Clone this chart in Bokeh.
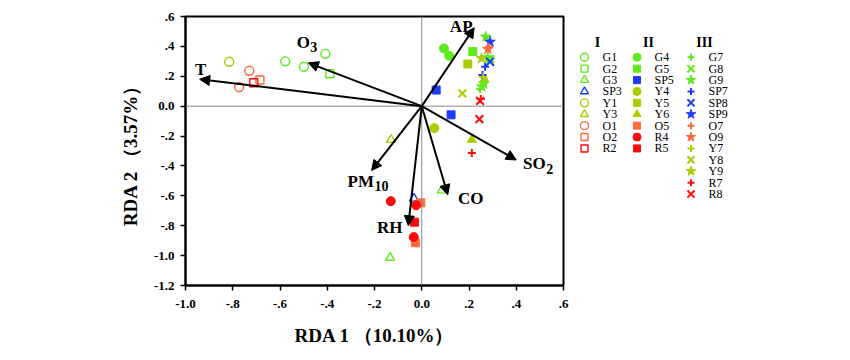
from bokeh.plotting import figure
from bokeh.layouts import row
from bokeh.models import Range1d, FixedTicker, Span, Arrow, NormalHead, ColumnDataSource
from bokeh.core.properties import value
from bokeh.embed import file_html
from bokeh.resources import INLINE

# ---------------- data ----------------
# sample scores (RDA1, RDA2)
pt_name = ["G1", "G1", "G1", "G2", "G3", "G3", "SP3", "Y1", "Y3", "O1", "O1", "O2", "R2",
           "G4", "G4", "G5", "SP5", "SP5", "Y4", "Y5", "Y6", "Y6", "O5", "O5",
           "R4", "R4", "R4", "R5",
           "G7", "G8", "G9", "G9", "G9", "G9", "SP7", "SP7", "SP8", "SP9", "O7", "O9",
           "Y7", "Y8", "Y9", "R7", "R7", "R8", "R8"]
pt_x = [-0.578, -0.499, -0.408, -0.389, 0.085, -0.134, -0.033, -0.815, -0.130, -0.730, -0.773, -0.685, -0.711,
        0.094, 0.116, 0.216, 0.061, 0.124, 0.053, 0.195, 0.212, 0.265, -0.004, -0.027,
        -0.131, -0.024, -0.034, -0.031,
        0.247, 0.290, 0.271, 0.280, 0.254, 0.262, 0.268, 0.257, 0.289, 0.289, 0.285, 0.280,
        0.260, 0.172, 0.253, 0.250, 0.212, 0.247, 0.244]
pt_y = [0.300, 0.264, 0.350, 0.217, -0.563, -1.014, -0.618, 0.297, -0.225, 0.237, 0.128, 0.175, 0.157,
        0.386, 0.337, 0.366, 0.108, -0.058, -0.147, 0.282, -0.225, 0.180, -0.647, -0.914,
        -0.636, -0.663, -0.876, -0.776,
        0.115, 0.315, 0.464, 0.326, 0.131, 0.150, 0.264, 0.208, 0.297, 0.430, 0.395, 0.382,
        0.195, 0.086, 0.320, 0.048, -0.314, 0.035, -0.087]

# environmental factor loadings
env_name = ["T", "O3", "AP", "SO2", "CO", "RH", "PM10"]
env_x = [-0.940, -0.480, 0.222, 0.400, 0.110, -0.057, -0.212]
env_y = [0.180, 0.290, 0.525, -0.360, -0.593, -0.800, -0.430]

# legend columns
col_I = ["G1", "G2", "G3", "SP3", "Y1", "Y3", "O1", "O2", "R2"]
col_II = ["G4", "G5", "SP5", "Y4", "Y5", "Y6", "O5", "R4", "R5"]
col_III = ["G7", "G8", "G9", "SP7", "SP8", "SP9", "O7", "O9", "Y7", "Y8", "Y9", "R7", "R8"]
col_heads = ["I", "II", "III"]

# axis ticks
ticks_x = [-1.0, -0.8, -0.6, -0.4, -0.2, 0.0, 0.2, 0.4, 0.6]
labels_x = ["-1.0", "-.8", "-.6", "-.4", "-.2", "0.0", ".2", ".4", ".6"]
ticks_y = [-1.2, -1.0, -0.8, -0.6, -0.4, -0.2, 0.0, 0.2, 0.4, 0.6]
labels_y = ["-1.2", "-1.0", "-.8", "-.6", "-.4", "-.2", "0.0", ".2", ".4", ".6"]

# ---------------- styles ----------------
SERIF = "Liberation Serif"
COLORS = {"G": "#5FEA1E", "Y": "#AECB00", "O": "#FF6A3A", "R": "#FF0A0A", "SP": "#1E3CF5"}
MARK = {"G1": "circle", "G2": "square", "G3": "triangle", "SP3": "triangle", "Y1": "circle",
        "Y3": "triangle", "O1": "circle", "O2": "square", "R2": "square",
        "G4": "circle", "G5": "square", "SP5": "square", "Y4": "circle", "Y5": "square",
        "Y6": "triangle", "O5": "square", "R4": "circle", "R5": "square",
        "G7": "cross", "G8": "x", "G9": "star", "SP7": "cross", "SP8": "x", "SP9": "star",
        "O7": "cross", "O9": "star", "Y7": "cross", "Y8": "x", "Y9": "star", "R7": "cross", "R8": "x"}
SIZE = {"circle": 9, "square": 8, "triangle": 9, "cross": 8, "x": 11, "star": 11}
LSIZE = {"circle": 8, "square": 7, "triangle": 8, "cross": 7, "x": 10, "star": 10}


def color_of(name):
    return COLORS[name.rstrip("0123456789")]


def is_open(name):
    return name in col_I


def lw(name, mk):
    if mk in ("x", "cross"):
        return 2
    return 1.4 if is_open(name) else 1


# label layout: (main text, subscript, x offset px, y offset px, align)
LBL = {"T": ("T", "", 1, -10, "center"),
       "O3": ("O", "3", 1.5, -20.5, "right"),
       "AP": ("AP", "", -13, -1, "center"),
       "SO2": ("SO", "2", 29.5, 4, "right"),
       "CO": ("CO", "", 23, 4, "center"),
       "RH": ("RH", "", -18.5, 1.5, "center"),
       "PM10": ("PM", "10", 2.3, 11, "right")}

# ---------------- main figure ----------------
p = figure(width=578, height=348, x_range=Range1d(-1.0, 0.6), y_range=Range1d(-1.2, 0.6),
           output_backend="svg", toolbar_location=None,
           min_border_left=185, min_border_right=15, min_border_top=16, min_border_bottom=62)
p.grid.visible = False
p.outline_line_color = "black"
p.outline_line_width = 2
p.background_fill_color = "white"

p.xaxis.ticker = FixedTicker(ticks=ticks_x)
p.yaxis.ticker = FixedTicker(ticks=ticks_y)
p.xaxis.major_label_overrides = dict(zip(ticks_x, labels_x))
p.yaxis.major_label_overrides = dict(zip(ticks_y, labels_y))
for ax in (p.xaxis, p.yaxis):
    ax.axis_line_width = 2
    ax.axis_line_color = "black"
    ax.major_tick_line_width = 1.5
    ax.major_tick_out = 5
    ax.major_tick_in = 0
    ax.minor_tick_line_color = None
    ax.major_label_text_font = SERIF
    ax.major_label_text_font_style = "bold"
    ax.major_label_text_font_size = "13px"
    ax.major_label_text_color = "black"
    ax.axis_label_text_font = SERIF
    ax.axis_label_text_font_style = "bold"
    ax.axis_label_text_font_size = "19px"
    ax.axis_label_text_color = "black"
p.xaxis.axis_label = "RDA 1 （10.10%）"
p.yaxis.axis_label = "RDA 2 （3.57%）"
p.xaxis.major_label_standoff = 9
p.xaxis.axis_label_standoff = 14
p.yaxis.major_label_standoff = 6
p.yaxis.axis_label_standoff = 10

p.add_layout(Span(location=0, dimension="width", line_color="#8a8a8a", line_width=1))
p.add_layout(Span(location=0, dimension="height", line_color="#8a8a8a", line_width=1))

# samples
for nm in col_I + col_II + col_III:
    idx = [i for i, n in enumerate(pt_name) if n == nm]
    if not idx:
        continue
    mk = MARK[nm]
    c = color_of(nm)
    p.scatter([pt_x[i] for i in idx], [pt_y[i] for i in idx], marker=mk, size=SIZE[mk],
              line_color=c, fill_color=None if is_open(nm) else c, line_width=lw(nm, mk))

# environmental arrows
asrc = ColumnDataSource(dict(x0=[0.0] * len(env_x), y0=[0.0] * len(env_y), x1=env_x, y1=env_y))
p.add_layout(Arrow(x_start="x0", y_start="y0", x_end="x1", y_end="y1", source=asrc,
                   line_width=2, line_color="black",
                   end=NormalHead(size=10, fill_color="black", line_color="black", line_width=1)))

for nm, ex, ey in zip(env_name, env_x, env_y):
    main, sub, dx, dy, al = LBL[nm]
    p.text([ex], [ey], text=[main], x_offset=dx, y_offset=dy, text_align=al,
           text_baseline="middle", text_font=value(SERIF), text_font_style="bold",
           text_font_size="17px", text_color="black")
    if sub:
        p.text([ex], [ey], text=[sub], x_offset=dx + 0.5, y_offset=dy + 5, text_align="left",
               text_baseline="middle", text_font=value(SERIF), text_font_style="bold",
               text_font_size="14px", text_color="black")

# ---------------- legend figure ----------------
lg = figure(width=182, height=348, x_range=Range1d(578, 760), y_range=Range1d(348, 0),
            output_backend="svg", toolbar_location=None, min_border=0)
lg.axis.visible = False
lg.grid.visible = False
lg.outline_line_color = None

mk_x = [584, 636.5, 690.5]
tx_x = [602, 654, 708]
hd_x = [597, 648, 704]
row0, dy_row, hd_y = 52.7, 14.75, 33.3

lg.text(hd_x, [hd_y] * 3, text=col_heads, text_align="center", text_baseline="middle",
        text_font=value(SERIF), text_font_style="bold", text_font_size="14px", text_color="black")
for ci, col in enumerate([col_I, col_II, col_III]):
    for ri, nm in enumerate(col):
        mk = MARK[nm]
        c = color_of(nm)
        yy = row0 + ri * dy_row
        lg.scatter([mk_x[ci]], [yy], marker=mk, size=LSIZE[mk], line_color=c,
                   fill_color=None if is_open(nm) else c, line_width=lw(nm, mk))
    lg.text([tx_x[ci]] * len(col), [row0 + r * dy_row for r in range(len(col))], text=col,
            text_align="left", text_baseline="middle", text_font=value(SERIF),
            text_font_size="12px", text_color="black")

layout = row(p, lg)
open("out.html", "w").write(file_html(layout, INLINE))
